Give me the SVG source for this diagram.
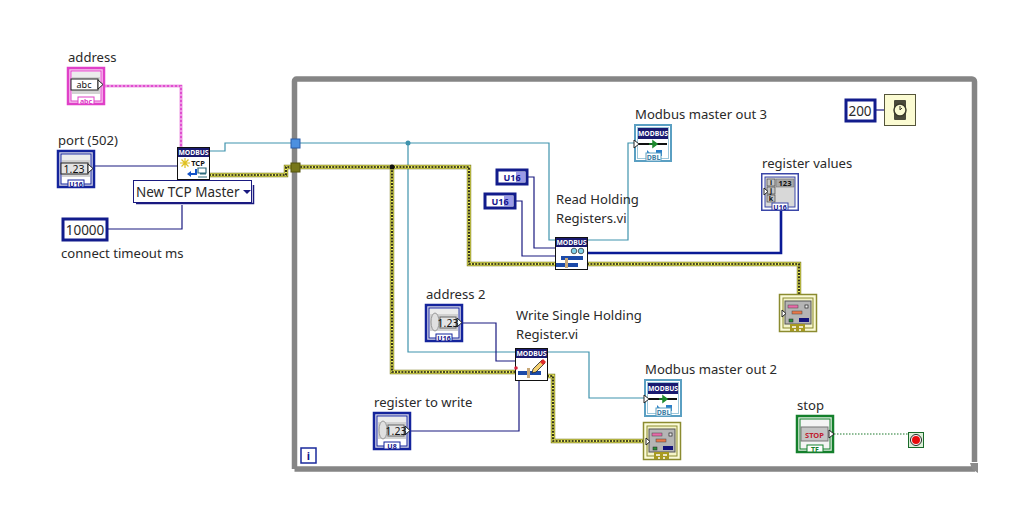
<svg xmlns="http://www.w3.org/2000/svg" xmlns:xlink="http://www.w3.org/1999/xlink" width="1020" height="531" viewBox="0 0 1020 531">
<style>
text{font-family:"Noto Sans","Open Sans","Liberation Sans",sans-serif}
.lbl{font-size:13.100px;fill:#2a2a2a}
.w{fill:none;stroke-linejoin:miter}
.num{stroke:#1a1a80;stroke-width:1.200}
.numb{stroke:#0a1a96;stroke-width:2.600}
.tl{stroke:#3f93ad;stroke-width:1.200}
.pk{stroke:#e04fd0;stroke-width:2.600}
.pkd{stroke:#fff;stroke-width:.8;stroke-dasharray:2 2}
.ero{stroke:#77771c;stroke-width:4.400}
.ery{stroke:#eeee60;stroke-width:3}
.erd{stroke:#111;stroke-width:1.700;stroke-dasharray:2 1.200}
.bl{stroke:#121c8c;stroke-width:3;fill:#fff}
.cap{font-size:7px;font-weight:700;fill:#14148c;text-anchor:middle}
.vis{font-size:6.800px;font-weight:700;fill:#fff;text-anchor:middle}
.val{font-size:10.500px;fill:#111;text-anchor:middle}
</style>
<defs>
<path id="errA" d="M209 175H286V167H469V264H799V294"/>
<path id="errB" d="M392 167V372H515"/>
<path id="errC" d="M547 376H553V441H645"/>
<g id="ctlBody"><rect x="5" y="5" width="28" height="22" fill="#d2d2d2"/><rect x="5" y="5" width="28" height="5" fill="#ececec"/></g>
<g id="mbShape">
<rect x="1" y="1" width="36" height="36" fill="#fff" stroke="#5a9fc2" stroke-width="2"/>
<rect x="3.500" y="3.500" width="31" height="31" fill="#fff" stroke="#9cc6da"/>
<rect x="4" y="4" width="30" height="11" fill="#1a1a70"/>
<path d="M5 20H33" stroke="#111" stroke-width="2"/>
<path d="M15 20H22M19 17l4 3-4 3z" stroke="#1d8a2c" fill="#1d8a2c" stroke-width="1.500"/>
<path d="M13 32V26l3 3 2 2h-5zM22 26h6v6h-6z" fill="#2b7fc8"/>
<path d="M0 16l5 4-5 4z" fill="#fff" stroke="#222"/>
</g>
<g id="clShape">
<rect x="0.500" y="0.500" width="37" height="37" fill="#fbfbd8" stroke="#8b8b30" stroke-width="1.500"/>
<rect x="4" y="4" width="30" height="30" fill="#f4f4c8" stroke="#8b8b30"/>
<rect x="6" y="7" width="26" height="23" fill="#b5b5b5" stroke="#555"/>
<rect x="9" y="11" width="10" height="3" fill="#e86aa8" stroke="#444" stroke-width=".5"/>
<rect x="13" y="17" width="10" height="3" fill="#e8784a" stroke="#444" stroke-width=".5"/>
<rect x="26" y="11" width="3" height="3" fill="#eee" stroke="#222" stroke-width=".7"/>
<rect x="10" y="25" width="4" height="3" fill="#2c8f3a" stroke="#222" stroke-width=".5"/>
<rect x="20" y="24" width="10" height="4" fill="#14147c"/>
<rect x="11" y="30" width="15" height="7" fill="#a89a20"/>
<path d="M13 33h4M20 33h4M15 36h2M20 36h2" stroke="#fff" stroke-width="1.500"/>
<path d="M3 16l4 3.500-4 3.500z" fill="#fff" stroke="#222"/>
</g>
</defs>
<rect width="1020" height="531" fill="#fff"/>
<g id="while-loop">
<path d="M294.500 469V81a2 2 0 0 1 2-2H972a2.500 2.500 0 0 1 2.500 2.500V462M294.500 469H975" fill="none" stroke="#858585" stroke-width="5.500"/>
<path d="M970 463h8v10l-6-4z" fill="#8c8c8c"/>
</g>
<g id="connectors" class="w">
<path class="w pk" d="M105 86H181V147"/>
<path class="w pkd" d="M105 86H181V147"/>
<path class="w num" d="M95 166H177"/>
<path class="w num" d="M108 229H182V205"/>
<path class="w tl" d="M209 151H225V143H549V240H587H628V143H635"/>
<path class="w tl" d="M408 143V352H548H589V398H645"/>
<circle cx="408" cy="143" r="2.500" fill="#3f93ad"/>
<path class="w num" d="M528 177H534V248H556"/>
<path class="w num" d="M516 201H522V256H556"/>
<path class="w numb" d="M587 253H781V211"/>
<path class="w num" d="M463 323H496V361H515"/>
<path class="w num" d="M411 431H519V380"/>
<path class="w num" d="M876 110H884"/>
<path class="w" d="M834 434H908" stroke="#1d7a2c" stroke-width="1.100" stroke-dasharray="1.500 1.500"/>
<use href="#errA" class="w ero"/><use href="#errB" class="w ero"/><use href="#errC" class="w ero"/>
<use href="#errA" class="w ery"/><use href="#errB" class="w ery"/><use href="#errC" class="w ery"/>
<use href="#errA" class="w erd"/><use href="#errB" class="w erd"/><use href="#errC" class="w erd"/>
<circle cx="392" cy="167" r="2.500" fill="#111"/>
</g>
<g id="tunnel-modbus"><rect x="291" y="139" width="9" height="9" fill="#4d90e0" stroke="#2b5ca8"/></g>
<g id="tunnel-error"><rect x="291" y="163" width="9" height="9" fill="#77771a" stroke="#55550c"/></g>
<g id="address" transform="translate(67 67)">
<rect x="1" y="1" width="36" height="36" fill="#f8c8f0" stroke="#e040c8" stroke-width="2.500"/>
<rect x="4" y="4" width="30" height="30" fill="#fff" stroke="#e040c8"/>
<use href="#ctlBody"/>
<rect x="4" y="12" width="27" height="11" fill="#fff" stroke="#222"/>
<path d="M31 13l5 4.500-5 4.500z" fill="#fff" stroke="#222"/>
<text x="17" y="21" class="val" style="font-size:9px">abc</text>
<rect x="11" y="30" width="16" height="7" fill="#fff" stroke="#e040c8"/>
<text x="19" y="36.500" class="cap" style="fill:#e040c8">abc</text>
</g>
<text x="68" y="62" class="lbl">address</text>
<g id="port" transform="translate(57 150)">
<rect x="1" y="1" width="36" height="36" fill="#d8d8e8" stroke="#14249c" stroke-width="2.500"/>
<rect x="4" y="4" width="30" height="30" fill="#fff" stroke="#14249c"/>
<use href="#ctlBody"/>
<rect x="4" y="13" width="27" height="11" fill="#e4e4e4" stroke="#222"/>
<path d="M31 14l5 4.500-5 4.500z" fill="#fff" stroke="#222"/>
<text x="17" y="22.500" class="val">1.23</text>
<rect x="11" y="30" width="16" height="7" fill="#fff" stroke="#14249c"/>
<text x="19" y="36.500" class="cap">U16</text>
</g>
<text x="58" y="145" class="lbl">port (502)</text>
<g id="new-tcp-master-vi" transform="translate(177 147)">
<rect x=".5" y=".5" width="32" height="32" fill="#fff" stroke="#111"/>
<rect x="1" y="1" width="31" height="9" fill="#1a1a70"/>
<text x="16.500" y="8.200" class="vis">MODBUS</text>
<text x="21" y="19" style="font-size:7.500px;font-weight:700;fill:#111;text-anchor:middle">TCP</text>
<path d="M3 16h10M8 11v10M4.500 12.500l7 7M11.500 12.500l-7 7" stroke="#e0c020" stroke-width="1.200"/>
<path d="M13 27h6v-5" fill="none" stroke="#1452c8" stroke-width="2"/>
<path d="M10 27l4-3v6z" fill="#1452c8"/>
<path d="M21 21h8v5h-8zM23 27h6M21 30h9" fill="none" stroke="#2c6a7c" stroke-width="1.200"/>
</g>
<g id="new-tcp-master-ring">
<rect x="133.500" y="180.500" width="118" height="22" fill="#fff" stroke="#1a1a80" stroke-width="1"/>
<path d="M136 203.500H253.500V185" fill="none" stroke="#1a1a80" stroke-width="1.500"/>
<text x="136" y="197" style="font-size:13.500px" fill="#2a2a2a">New TCP Master</text>
<path d="M243 190h8l-4 4z" fill="#1a1a80"/>
</g>
<g id="timeout">
<rect class="bl" x="63" y="219" width="44" height="21"/>
<text x="85" y="235" style="font-size:13.500px;text-anchor:middle" fill="#2a2a2a">10000</text>
</g>
<text x="61" y="258" class="lbl">connect timeout ms</text>
<g id="u16-a">
<rect class="bl" x="497" y="170" width="30" height="14"/>
<rect x="516" y="172" width="9" height="10" fill="#9a9ae8"/>
<text x="512" y="181" style="font-size:9px;font-weight:700;fill:#14148c;text-anchor:middle">U16</text>
</g>
<g id="u16-b">
<rect class="bl" x="485" y="194" width="30" height="14"/>
<rect x="504" y="196" width="9" height="10" fill="#9a9ae8"/>
<text x="500" y="205" style="font-size:9px;font-weight:700;fill:#14148c;text-anchor:middle">U16</text>
</g>
<text x="556" y="204" class="lbl">Read Holding</text>
<text x="556" y="223" class="lbl">Registers.vi</text>
<g id="read-holding-registers" transform="translate(555 237)">
<rect x=".5" y=".5" width="32" height="32" fill="#fff" stroke="#111"/>
<rect x="1" y="1" width="31" height="9" fill="#1a1a70"/>
<text x="16.500" y="8.200" class="vis">MODBUS</text>
<circle cx="19" cy="14" r="2.800" fill="#7fd0e8" stroke="#222" stroke-width=".7"/>
<circle cx="26" cy="14" r="2.800" fill="#7fd0e8" stroke="#222" stroke-width=".7"/>
<rect x="6" y="19" width="22" height="4" fill="#1c4aa8"/>
<rect x="1" y="26" width="22" height="4" fill="#1c4aa8"/>
<rect x="10" y="21" width="3" height="10" fill="#c8a878"/>
</g>
<g id="modbus-master-out-3" transform="translate(634 124)">
<use href="#mbShape"/>
<text x="19" y="12.300" class="vis">MODBUS</text>
<rect x="12" y="29" width="15" height="8" fill="#fff" stroke="#5a9fc2"/>
<text x="19.500" y="36" class="cap" style="fill:#3c7ea4">DBL</text>
</g>
<text x="635" y="119" class="lbl">Modbus master out 3</text>
<g id="register-values" transform="translate(761 173)">
<rect x=".75" y=".75" width="36.500" height="36.500" fill="#fff" stroke="#3a46a8" stroke-width="1.500"/>
<rect x="4" y="4" width="30" height="30" fill="#d8d8d8" stroke="#3a46a8"/>
<rect x="15" y="6" width="18" height="8" fill="#a8a8a8" stroke="#666" stroke-width=".5"/>
<text x="24" y="13" style="font-size:7.500px;font-weight:700;text-anchor:middle;fill:#111">123</text>
<rect x="6" y="6" width="8" height="7" fill="#c4c4c4" stroke="#333" stroke-width=".6"/>
<rect x="6" y="14" width="8" height="7" fill="#c4c4c4" stroke="#333" stroke-width=".6"/>
<rect x="6" y="22" width="8" height="7" fill="#c4c4c4" stroke="#333" stroke-width=".6"/>
<text x="10" y="12" style="font-size:7px;text-anchor:middle;font-weight:700;fill:#111">i</text>
<text x="10" y="20" style="font-size:7px;text-anchor:middle;font-weight:700;fill:#111">j</text>
<text x="10" y="28" style="font-size:7px;text-anchor:middle;font-weight:700;fill:#111">k</text>
<path d="M3 15l4 3.500-4 3.500z" fill="#fff" stroke="#222"/>
<rect x="11" y="30" width="16" height="7" fill="#fff" stroke="#3a46a8"/>
<text x="19" y="36.500" class="cap">U16</text>
</g>
<text x="762" y="168" class="lbl">register values</text>
<g id="wait-200">
<rect class="bl" x="846" y="100" width="29" height="21"/>
<text x="860" y="116" style="font-size:13.500px;text-anchor:middle" fill="#2a2a2a">200</text>
</g>
<g id="wait-timer" transform="translate(884 94)">
<rect x=".5" y=".5" width="31" height="31" fill="#fbfbd2" stroke="#55553a"/>
<rect x="10" y="6" width="12" height="20" rx="1" fill="#4a4a3a"/>
<circle cx="16" cy="16" r="6" fill="#fbfbd2" stroke="#3a3a2a" stroke-width="1.500"/>
<path d="M16 12v4l2-2" fill="none" stroke="#3a3a2a"/>
</g>
<g id="error-indicator-1" transform="translate(779 294)"><use href="#clShape"/></g>
<g id="address-2" transform="translate(425 304)">
<rect x="1" y="1" width="36" height="36" fill="#d8d8e8" stroke="#14249c" stroke-width="2.500"/>
<rect x="4" y="4" width="30" height="30" fill="#fff" stroke="#14249c"/>
<use href="#ctlBody"/>
<ellipse cx="10" cy="18" rx="4" ry="9" fill="#e0e0e0" stroke="#999"/>
<rect x="15" y="13" width="16" height="11" fill="#e4e4e4" stroke="#666"/>
<path d="M32 14l5 4.500-5 4.500z" fill="#fff" stroke="#222"/>
<text x="23" y="22.500" class="val">1.23</text>
<rect x="11" y="30" width="16" height="7" fill="#fff" stroke="#14249c"/>
<text x="19" y="36.500" class="cap">U16</text>
</g>
<text x="426" y="299" class="lbl">address 2</text>
<text x="516" y="320" class="lbl">Write Single Holding</text>
<text x="516" y="339" class="lbl">Register.vi</text>
<g id="write-single-holding-register" transform="translate(515 348)">
<rect x=".5" y=".5" width="32" height="32" fill="#fff" stroke="#111"/>
<rect x="1" y="1" width="31" height="9" fill="#1a1a70"/>
<text x="16.500" y="8.200" class="vis">MODBUS</text>
<rect x="3" y="23" width="23" height="4" fill="#1c4aa8"/>
<rect x="12" y="20" width="3" height="10" fill="#c8a878"/>
<path d="M18 21l9-9 3 3-9 9-4 1z" fill="#f4d070" stroke="#222" stroke-width=".8"/>
<path d="M25 14l3-3 3 3-3 3z" fill="#e02a2a"/>
<circle cx="1" cy="20" r="1.800" fill="#d8203c"/>
</g>
<g id="modbus-master-out-2" transform="translate(644 379)">
<use href="#mbShape"/>
<text x="19" y="12.300" class="vis">MODBUS</text>
<rect x="12" y="29" width="15" height="8" fill="#fff" stroke="#5a9fc2"/>
<text x="19.500" y="36" class="cap" style="fill:#3c7ea4">DBL</text>
</g>
<text x="645" y="374" class="lbl">Modbus master out 2</text>
<g id="error-indicator-2" transform="translate(643 422)"><use href="#clShape"/></g>
<g id="register-to-write" transform="translate(373 412)">
<rect x="1" y="1" width="36" height="36" fill="#d8d8e8" stroke="#14249c" stroke-width="2.500"/>
<rect x="4" y="4" width="30" height="30" fill="#fff" stroke="#14249c"/>
<use href="#ctlBody"/>
<ellipse cx="10" cy="18" rx="4" ry="9" fill="#e0e0e0" stroke="#999"/>
<rect x="15" y="13" width="16" height="11" fill="#e4e4e4" stroke="#666"/>
<path d="M32 14l5 4.500-5 4.500z" fill="#fff" stroke="#222"/>
<text x="23" y="22.500" class="val">1.23</text>
<rect x="11" y="30" width="16" height="7" fill="#fff" stroke="#14249c"/>
<text x="19" y="36.500" class="cap">U8</text>
</g>
<text x="374" y="407" class="lbl">register to write</text>
<g id="stop" transform="translate(796 415)">
<rect x="1" y="1" width="36" height="36" fill="#e4f0e4" stroke="#14802c" stroke-width="2.500"/>
<rect x="4" y="4" width="30" height="30" fill="#f4f4f4" stroke="#14802c"/>
<rect x="5" y="12" width="27" height="14" fill="#c4c4c4" stroke="#777"/>
<text x="18.500" y="22.500" style="font-size:7.500px;font-weight:700;fill:#c02030;text-anchor:middle">STOP</text>
<path d="M33 15l5 4-5 4z" fill="#fff" stroke="#222"/>
<rect x="11" y="30" width="16" height="7" fill="#fff" stroke="#14802c"/>
<text x="19" y="36.500" class="cap" style="fill:#14802c">TF</text>
</g>
<text x="797" y="410" class="lbl">stop</text>
<g id="loop-condition" transform="translate(908 432)">
<rect x=".5" y=".5" width="15" height="15" fill="#dcf0d8" stroke="#1a6a2a"/>
<circle cx="8" cy="8" r="5.500" fill="#fff" stroke="#222"/>
<circle cx="8" cy="8" r="4" fill="#e80c0c"/>
</g>
<g id="loop-iteration">
<rect x="301" y="448" width="15" height="15" fill="#fff" stroke="#1a2a9c" stroke-width="1.500"/>
<text x="308.500" y="460" style="font-size:11px;font-weight:700;fill:#14148c;text-anchor:middle">i</text>
</g>
</svg>
